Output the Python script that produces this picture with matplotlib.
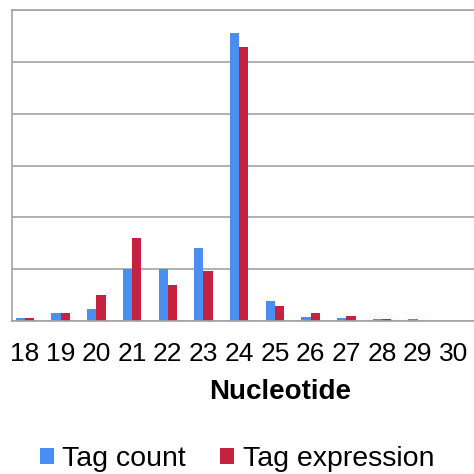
import matplotlib.pyplot as plt
import numpy as np

plt.rcParams['font.family'] = ['Liberation Sans', 'DejaVu Sans']

nucleotide = [18, 19, 20, 21, 22, 23, 24, 25, 26, 27, 28, 29, 30]
tag_count = [0.05, 0.15, 0.24, 1.0, 1.0, 1.40, 5.55, 0.39, 0.07, 0.06, 0.04, 0.04, 0.0]
tag_expression = [0.05, 0.15, 0.50, 1.60, 0.69, 0.97, 5.29, 0.29, 0.15, 0.10, 0.04, 0.0, 0.0]

blue = '#4a8ef2'
red = '#c4223f'
grid_col = '#a3a3a3'

fig = plt.figure(figsize=(4.74, 4.74), dpi=100)
# axes runs off the right edge, like the cropped original
ax = fig.add_axes([12 / 474, 1 - 321 / 474, 1.0, 311 / 474])

x = np.array(nucleotide)
w = 0.26
ax.bar(x - w / 2, tag_count, width=w, color=blue, label='Tag count')
ax.bar(x + w / 2, tag_expression, width=w, color=red, label='Tag expression')

ax.set_xlim(17.636, 17.636 + 474 / 35.7)
ax.set_ylim(0, 6)
ax.set_yticks(range(0, 7))
ax.set_yticklabels([])
ax.yaxis.grid(True, color=grid_col, linewidth=1.2)
ax.set_axisbelow(True)
ax.tick_params(axis='y', length=0)
ax.set_xticks(nucleotide)
ax.set_xticklabels([str(n) for n in nucleotide], fontsize=19)
ax.tick_params(axis='x', length=0, pad=15)
for s in ['left', 'top', 'bottom']:
    ax.spines[s].set_color(grid_col)
    ax.spines[s].set_linewidth(1.2)
ax.spines['right'].set_visible(False)

fig.text(280 / 474, 1 - 392 / 474, 'Nucleotide', fontsize=20, fontweight='bold',
         ha='center', va='center')

h, l = ax.get_legend_handles_labels()
fig.legend(h, l, loc='center', bbox_to_anchor=(237 / 474, 1 - 459 / 474), ncol=2,
           frameon=False, fontsize=20.5, handlelength=0.5, handleheight=0.5,
           handletextpad=0.3, columnspacing=1.2, borderaxespad=0)

fig.savefig('out.png', dpi=100)
